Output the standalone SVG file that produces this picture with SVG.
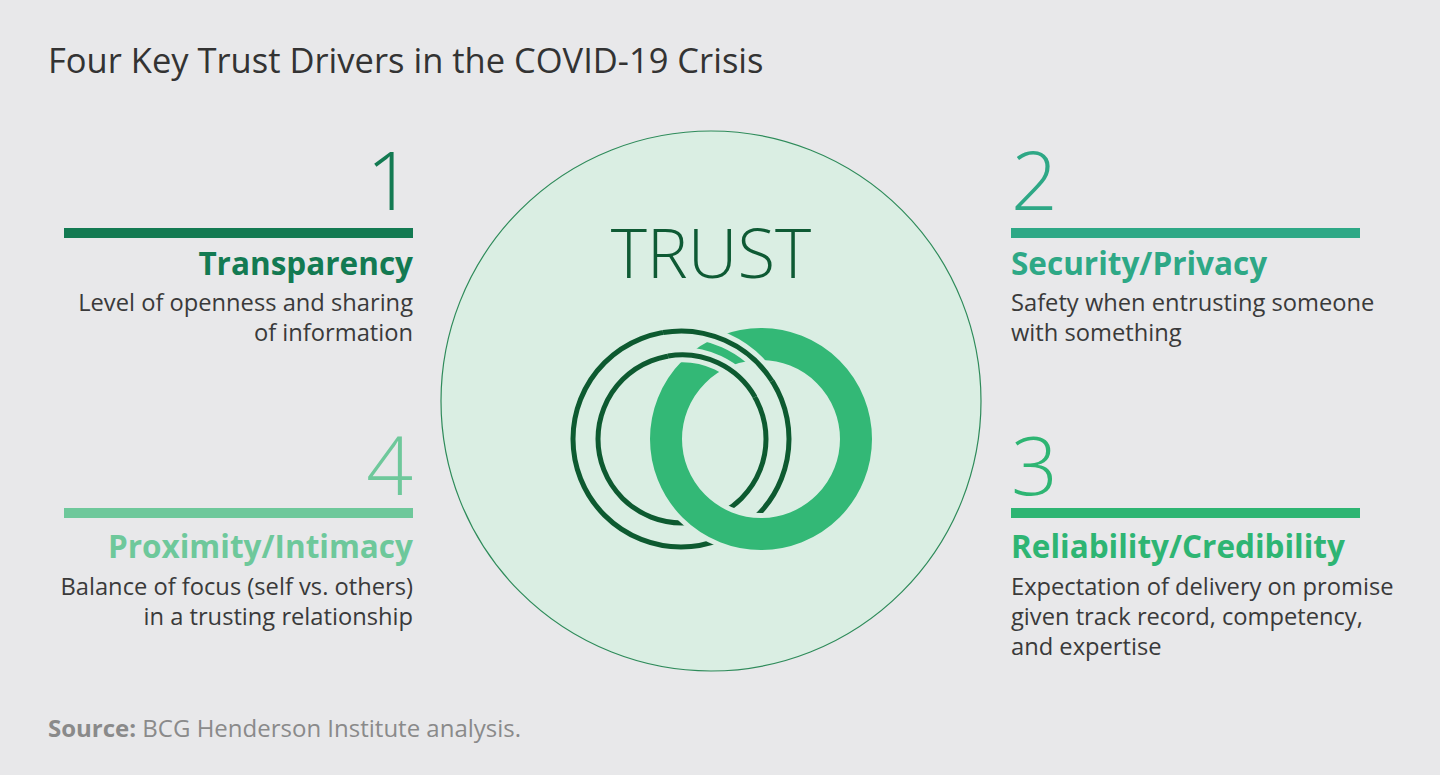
<svg xmlns="http://www.w3.org/2000/svg" width="1440" height="775" viewBox="0 0 1440 775">
<style>
text{font-family:"Open Sans","Liberation Sans",sans-serif}
.num{font-size:82px;font-weight:300}
.ttl{font-size:31.5px;font-weight:700}
.dsc{font-size:23.7px;fill:#3a3a3a}
.l{text-anchor:end}
</style>
<rect width="1440" height="775" fill="#e8e8ea"/>
<text x="48" y="73" font-size="34.5" fill="#333">Four Key Trust Drivers in the COVID-19 Crisis</text>
<g id="center">
<circle cx="711" cy="401" r="270" fill="#daeee3" stroke="#2e8b5a" stroke-width="1.2"/>
<text x="711" y="278" font-size="69" font-weight="300" fill="#0e5a34" text-anchor="middle">TRUST</text>
<circle cx="681" cy="439" r="108" fill="none" stroke="#0d5a30" stroke-width="5"/>
<circle cx="682" cy="439" r="84" fill="none" stroke="#0d5a30" stroke-width="5"/>
<circle cx="761" cy="439" r="95" fill="none" stroke="#daeee3" stroke-width="42"/>
<circle cx="761" cy="439" r="95" fill="none" stroke="#33b876" stroke-width="32"/>
<path d="M663.0,332.5 A108,108 0 0 1 772,381" fill="none" stroke="#daeee3" stroke-width="15"/>
<path d="M663.0,332.5 A108,108 0 0 1 772,381" fill="none" stroke="#0d5a30" stroke-width="5"/>
<path d="M668,356 A84,84 0 0 1 755,397" fill="none" stroke="#daeee3" stroke-width="15"/>
<path d="M668,356 A84,84 0 0 1 755,397" fill="none" stroke="#0d5a30" stroke-width="5"/>
</g>
<g id="n1">
<text class="num l" x="413" y="210" fill="#137a52">1</text>
<rect x="64" y="228" width="349" height="10" fill="#137a52"/>
<text class="ttl l" x="413" y="275" fill="#137a52">Transparency</text>
<text class="dsc l" x="413" y="311">Level of openness and sharing</text>
<text class="dsc l" x="413" y="341">of information</text>
</g>
<g id="n2">
<text class="num" x="1011" y="210" fill="#2ea886">2</text>
<rect x="1011" y="228" width="349" height="10" fill="#2ea886"/>
<text class="ttl" x="1011" y="275" fill="#2ea886">Security/Privacy</text>
<text class="dsc" x="1011" y="311">Safety when entrusting someone</text>
<text class="dsc" x="1011" y="341">with something</text>
</g>
<g id="n3">
<text class="num" x="1011" y="495" fill="#2eb573">3</text>
<rect x="1011" y="508" width="349" height="10" fill="#2eb573"/>
<text class="ttl" x="1011" y="558" fill="#2eb573">Reliability/Credibility</text>
<text class="dsc" x="1011" y="595">Expectation of delivery on promise</text>
<text class="dsc" x="1011" y="625">given track record, competency,</text>
<text class="dsc" x="1011" y="655">and expertise</text>
</g>
<g id="n4">
<text class="num l" x="413" y="495" fill="#6ec89b">4</text>
<rect x="64" y="508" width="349" height="10" fill="#6ec89b"/>
<text class="ttl l" x="413" y="558" fill="#6ec89b">Proximity/Intimacy</text>
<text class="dsc l" x="413" y="595">Balance of focus (self vs. others)</text>
<text class="dsc l" x="413" y="625">in a trusting relationship</text>
</g>
<g id="connectors"/>
<text x="48" y="737" font-size="24" fill="#8a8a8a"><tspan font-weight="700">Source:</tspan> BCG Henderson Institute analysis.</text>
</svg>
